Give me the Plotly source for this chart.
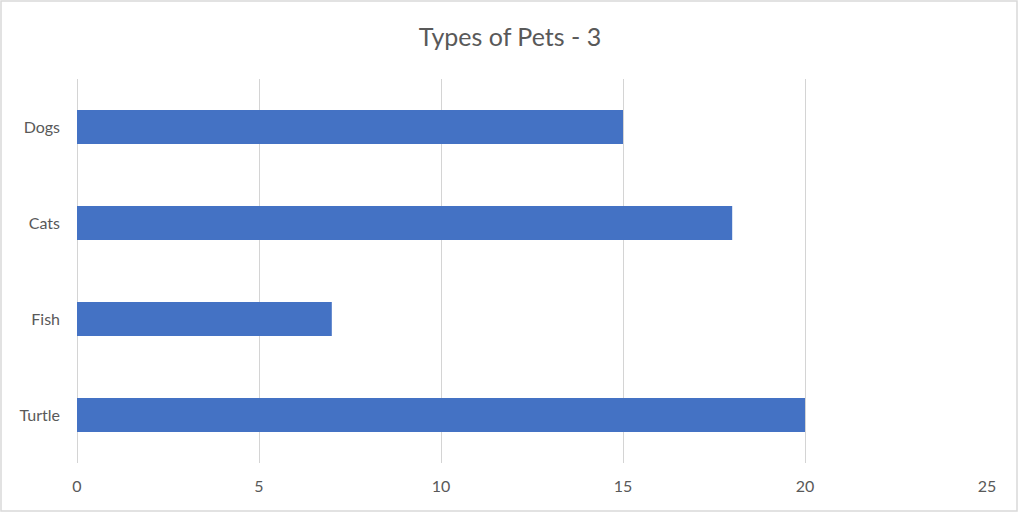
import plotly.graph_objects as go

# chart data
pets = ["Dogs", "Cats", "Fish", "Turtle"]
counts = [15, 18, 7, 20]
x_ticks = [0, 5, 10, 15, 20, 25]

W, H = 1020, 513
L, R, T, B = 77, 33, 79, 50
pw, ph = W - L - R, H - T - B

fig = go.Figure()
fig.add_trace(
    go.Bar(
        x=counts,
        y=pets,
        orientation="h",
        marker=dict(color="#4472C4", line=dict(width=0)),
        showlegend=False,
    )
)

fig.update_layout(
    width=W,
    height=H,
    margin=dict(l=L, r=R, t=T, b=B),
    paper_bgcolor="white",
    plot_bgcolor="white",
    font=dict(family="Lato, Open Sans, sans-serif", color="#595959", size=16),
    title=dict(
        text="Types of Pets - 3",
        x=0.5,
        xanchor="center",
        y=1 - 37 / H,
        yanchor="middle",
        font=dict(size=25, color="#595959"),
    ),
    bargap=0.646,
    xaxis=dict(
        range=[0, 25],
        tickvals=x_ticks,
        showgrid=True,
        gridcolor="#d4d4d4",
        gridwidth=1.3,
        zeroline=True,
        zerolinecolor="#d4d4d4",
        zerolinewidth=1.3,
        showline=False,
        ticks="",
        ticklabelstandoff=12,
        fixedrange=True,
    ),
    yaxis=dict(
        autorange="reversed",
        showgrid=False,
        zeroline=False,
        showline=False,
        ticks="",
        ticklabelstandoff=16,
        fixedrange=True,
    ),
)

# outer chart border
fig.add_shape(
    type="rect",
    xref="paper",
    yref="paper",
    x0=(1 - L) / pw,
    x1=(1017 - L) / pw,
    y0=(T + ph - 511) / ph,
    y1=(T + ph - 1) / ph,
    line=dict(color="#d9d9d9", width=1.5),
    fillcolor="rgba(0,0,0,0)",
    layer="below",
)

fig.write_html(
    "out.html",
    config={"displayModeBar": False},
    post_script="document.body.style.margin='0';",
)
